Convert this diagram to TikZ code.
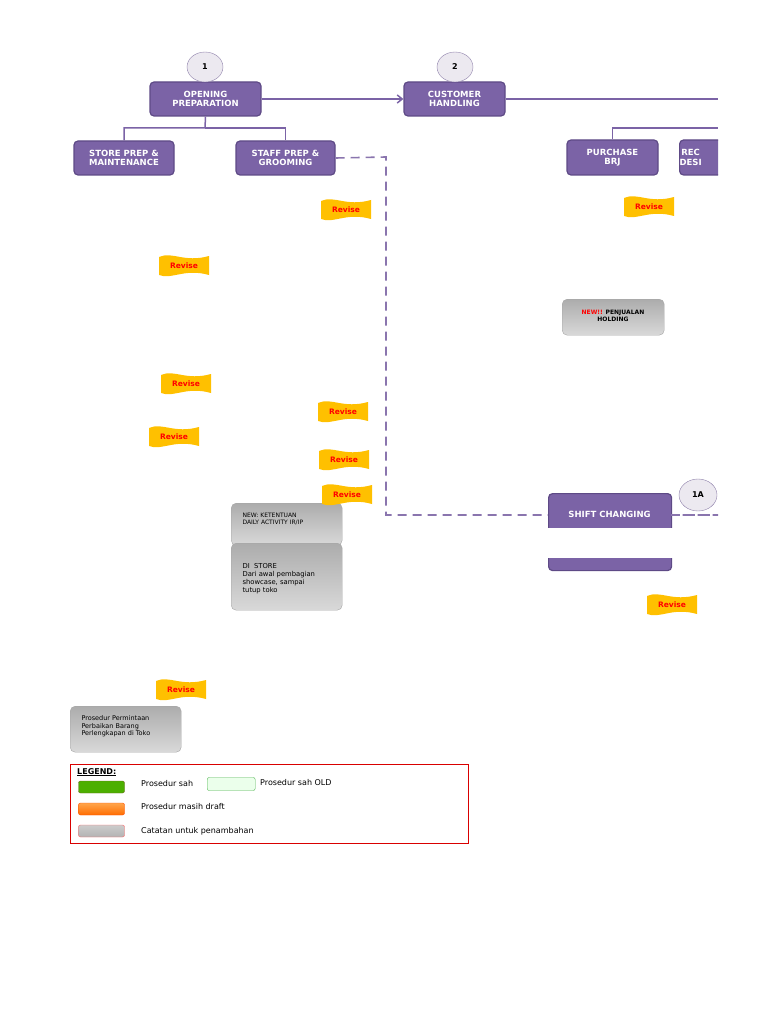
\documentclass[tikz,border=0pt]{standalone}
\usepackage{fontspec}
\setmainfont{DejaVu Sans}
\usetikzlibrary{arrows.meta,shadings,shapes.geometric}
\definecolor{pur}{HTML}{7B63A6}
\definecolor{purd}{HTML}{5E4A86}
\definecolor{dash}{HTML}{8A75AE}
\definecolor{flag}{HTML}{FFC000}
\tikzset{
 box/.style={draw=purd,line width=1.2pt,fill=pur,rounded corners=4pt,text=white,font=\bfseries\fontsize{8.5}{9.5}\selectfont,align=center,inner sep=0},
 num/.style={ellipse,draw=purd!70,fill=purd!12,font=\bfseries\fontsize{8}{9}\selectfont,minimum width=36pt,minimum height=30pt,inner sep=0},
 note/.style={draw=gray!70,rounded corners=5pt,top color=gray!65,bottom color=gray!30,align=left,inner sep=0,font=\fontsize{6.5}{7.5}\selectfont},
 conn/.style={draw=pur,line width=1.5pt},
 dashc/.style={draw=dash,line width=1.6pt,dash pattern=on 9pt off 6pt},
 revise/.pic={\fill[flag] (-25,-9) .. controls (-12,-15) and (0,-3) .. (25,-10) -- (25,9) .. controls (0,2) and (-12,14) .. (-25,9) -- cycle;
   \node[text=red,font=\bfseries\fontsize{7.5}{8}\selectfont] (-t) at (0,0) {Revise};}
}
\begin{document}
\begin{tikzpicture}[x=1pt,y=-1pt]
\useasboundingbox (0,0) rectangle (768,1024);
\begin{scope}
\clip (0,0) rectangle (718,1024);
% dashed connector
\coordinate (d1) at (386,157);
\coordinate (d2) at (386,515);
\coordinate (d3) at (718,515);
\node[box,minimum width=99pt,minimum height=34pt] (sp) at (285.5,158) {STAFF PREP \&\\GROOMING};
\draw[dashc] (sp.east) -- (d1) -- (d2) -- (d3);
% boxes
\node[box,minimum width=111pt,minimum height=34pt] (op) at (205.5,99) {OPENING\\PREPARATION};
\node[box,minimum width=101pt,minimum height=34pt] (ch) at (454.5,99) {CUSTOMER\\HANDLING};
\node[box,minimum width=100pt,minimum height=34pt] (st) at (124,158) {STORE PREP \&\\MAINTENANCE};
\node[box,minimum width=91pt,minimum height=35pt] (pb) at (612.5,157.5) {PURCHASE\\BRJ};
\node[box,minimum width=100pt,minimum height=35pt,anchor=west] (rd) at (679,157.5) {\hspace*{-50pt}REC\\\hspace*{-50pt}DESI};
\node[num] (n1) at (205,67) {1};
\node[num] (n2) at (455,67) {2};
\draw[conn,-{Straight Barb[length=5pt,width=8pt]}] (op.east) -- (ch.west);
\coordinate (chr) at (718,99);
\draw[conn] (ch.east) -- (chr);
\coordinate (t1) at (205,128);
\draw[conn] (op.south) -- (t1) -| (st.north);
\draw[conn] (t1) -| (sp.north);
\coordinate (t2) at (718,128);
\draw[conn] (pb.north) |- (t2);
% shift changing
\node[box,minimum width=123pt,minimum height=77pt,anchor=north west] (sc) at (548,493) {};
\fill[white] (546,528) rectangle (673,558);
\node[text=white,font=\bfseries\fontsize{8.5}{9.5}\selectfont] (sct) at (609.5,514) {SHIFT CHANGING};
\draw[dashc] (671,515) -- (d3);
\node[num,minimum width=38pt,minimum height=32pt] (n1a) at (698,495) {1A};
% notes
\node[note,minimum width=102pt,minimum height=36pt,anchor=north west] (hold) at (562,299) {};
\node[font=\bfseries\fontsize{6}{7}\selectfont,align=center] (holdt) at (613,316) {\textcolor{red}{NEW!!} PENJUALAN\\HOLDING};
\node[note,minimum width=111pt,minimum height=42pt,anchor=north west] (k1) at (231,503) {};
\node[font=\fontsize{6}{7}\selectfont,align=left,anchor=north west] (k1t) at (239,510) {NEW: KETENTUAN\\DAILY ACTIVITY IR/IP};
\node[note,minimum width=111pt,minimum height=67pt,anchor=north west] (k2) at (231,543) {};
\node[font=\fontsize{6.8}{8}\selectfont,align=left,anchor=north west] (k2t) at (239,560) {DI\ \ STORE\\Dari awal pembagian\\showcase, sampai\\tutup toko};
\node[note,minimum width=111pt,minimum height=46pt,anchor=north west] (pp) at (70,706) {};
\node[font=\fontsize{6.5}{7.7}\selectfont,align=left,anchor=north west] (ppt) at (78,712) {Prosedur Permintaan\\Perbaikan Barang\\Perlengkapan di Toko};
% revise flags
\pic (r1) at (346,210) {revise};
\pic (r2) at (184,266) {revise};
\pic (r3) at (649,207) {revise};
\pic (r4) at (186,384) {revise};
\pic (r5) at (343,412) {revise};
\pic (r6) at (174,437) {revise};
\pic (r7) at (344,460) {revise};
\pic (r8) at (347,495) {revise};
\pic (r9) at (672,605) {revise};
\pic (r10) at (181,690) {revise};
\end{scope}
% legend
\node[draw=red!85!black,line width=1.2pt,minimum width=398pt,minimum height=79pt,anchor=north west] (lg) at (70,764) {};
\node[font=\bfseries\fontsize{8}{9}\selectfont,anchor=north west,inner sep=0] (lgt) at (77,768) {\underline{LEGEND:}};
\node[draw=olive!70!black,fill=green!55!black!70!yellow,rounded corners=2pt,minimum width=46pt,minimum height=12pt] (lg1) at (101.5,787) {};
\node[draw=orange!60!red,top color=orange!70,bottom color=orange!85!red,rounded corners=2pt,minimum width=46pt,minimum height=12pt] (lg2) at (101.5,809) {};
\node[draw=red!60,top color=gray!40,bottom color=gray!60,rounded corners=2pt,minimum width=46pt,minimum height=12pt] (lg3) at (101.5,831) {};
\node[font=\fontsize{8}{9}\selectfont,anchor=west,inner sep=0] (lt1) at (141,784) {Prosedur sah};
\node[draw=green!40!gray,fill=green!8,rounded corners=2pt,minimum width=48pt,minimum height=13pt,anchor=west] (lgo) at (207,784) {};
\node[font=\fontsize{8}{9}\selectfont,anchor=west,inner sep=0] (lt1b) at (260,783) {Prosedur sah OLD};
\node[font=\fontsize{8}{9}\selectfont,anchor=west,inner sep=0] (lt2) at (141,807) {Prosedur masih draft};
\node[font=\fontsize{8}{9}\selectfont,anchor=west,inner sep=0] (lt3) at (141,831) {Catatan untuk penambahan};
\end{tikzpicture}
\end{document}
